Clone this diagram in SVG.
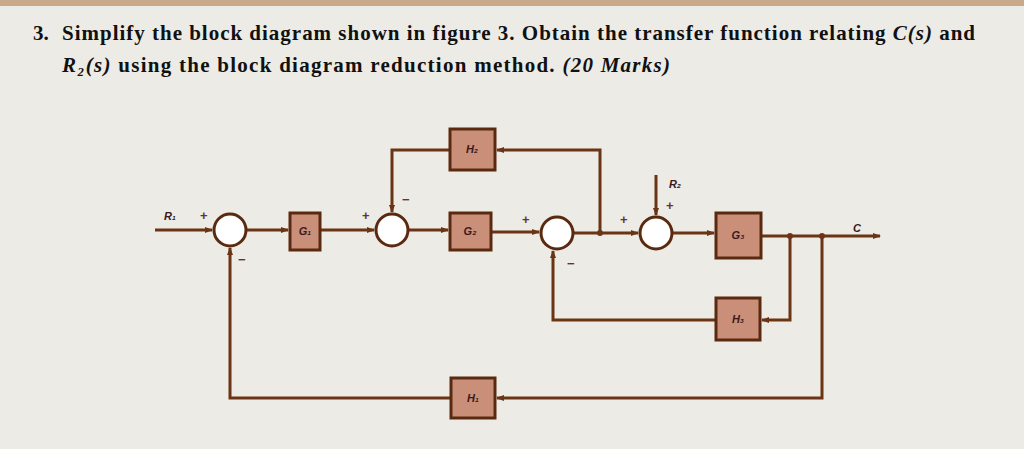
<svg xmlns="http://www.w3.org/2000/svg" width="1024" height="449" viewBox="0 0 1024 449">
<defs><marker id="a" markerWidth="8" markerHeight="8" refX="7" refY="4" orient="auto" markerUnits="userSpaceOnUse"><path d="M0,1 L8,4 L0,7 z" fill="#6b3415"/></marker>
<style>
.t{font-family:"Liberation Serif",serif;font-size:21px;fill:#111;font-weight:bold}
.b{fill:#c98f78;stroke:#5a2a10;stroke-width:3}
.bl{font-family:"Liberation Sans",sans-serif;font-size:11px;font-weight:bold;font-style:italic;fill:#3a1a20;text-anchor:middle}
.w{stroke:#6b3415;stroke-width:3;fill:none}
.s{fill:#fff;stroke:#5a2a10;stroke-width:3}
.sg{font-family:"Liberation Sans",sans-serif;font-size:13px;font-weight:bold;fill:#6b3415}
</style></defs>
<rect width="1024" height="449" fill="#ecebe6"/>
<rect width="1024" height="6" fill="#c9a98a"/>
<text class="t" x="33" y="40">3.</text>
<text class="t" x="62" y="40" textLength="913" lengthAdjust="spacing">Simplify the block diagram shown in figure 3. Obtain the transfer function relating <tspan font-style="italic">C(s)</tspan> and</text>
<text class="t" x="62" y="72" textLength="608" lengthAdjust="spacing"><tspan font-style="italic">R₂(s)</tspan> using the block diagram reduction method.   <tspan font-style="italic">(20 Marks)</tspan></text>
<g id="connectors">
<path class="w" d="M155,230 H212" marker-end="url(#a)"/>
<path class="w" d="M246,230 H288" marker-end="url(#a)"/>
<path class="w" d="M321,230 H374" marker-end="url(#a)"/>
<path class="w" d="M408,230 H448" marker-end="url(#a)"/>
<path class="w" d="M492,232 H539" marker-end="url(#a)"/>
<path class="w" d="M573,233 H638" marker-end="url(#a)"/>
<path class="w" d="M672,233 H714" marker-end="url(#a)"/>
<path class="w" d="M762,236 H880" marker-end="url(#a)"/>
<path class="w" d="M600,233 V150 H497" marker-end="url(#a)"/>
<path class="w" d="M450,150 H392 V212" marker-end="url(#a)"/>
<path class="w" d="M656,175 V215" marker-end="url(#a)"/>
<path class="w" d="M790,236 V320 H762" marker-end="url(#a)"/>
<path class="w" d="M715,320 H553 V251" marker-end="url(#a)"/>
<path class="w" d="M822,236 V398 H497" marker-end="url(#a)"/>
<path class="w" d="M450,398 H230 V248" marker-end="url(#a)"/>
<circle cx="600" cy="233" r="3" fill="#6b3415"/><circle cx="790" cy="236" r="3" fill="#6b3415"/><circle cx="822" cy="236" r="3" fill="#6b3415"/>
</g>
<g id="sum1"><circle class="s" cx="230" cy="230" r="16"/><text class="sg" x="200" y="220">+</text><text class="sg" x="238" y="264">−</text></g>
<g id="sum2"><circle class="s" cx="392" cy="230" r="16"/><text class="sg" x="362" y="220">+</text><text class="sg" x="402" y="204">−</text></g>
<g id="sum3"><circle class="s" cx="557" cy="233" r="16"/><text class="sg" x="522" y="224">+</text><text class="sg" x="567" y="268">−</text></g>
<g id="sum4"><circle class="s" cx="656" cy="233" r="16"/><text class="sg" x="620" y="224">+</text><text class="sg" x="666" y="210">+</text></g>
<g id="G1"><rect class="b" x="290" y="213" width="30" height="37"/><text class="bl" x="305" y="235">G₁</text></g>
<g id="G2"><rect class="b" x="450" y="213" width="41" height="37"/><text class="bl" x="470" y="235">G₂</text></g>
<g id="G3"><rect class="b" x="716" y="213" width="45" height="45"/><text class="bl" x="738" y="239">G₃</text></g>
<g id="H2"><rect class="b" x="450" y="129" width="45" height="41"/><text class="bl" x="472" y="153">H₂</text></g>
<g id="H3"><rect class="b" x="716" y="298" width="44" height="42"/><text class="bl" x="738" y="323">H₃</text></g>
<g id="H1"><rect class="b" x="451" y="378" width="44" height="40"/><text class="bl" x="473" y="402">H₁</text></g>
<text class="bl" x="170" y="220">R₁</text>
<text class="bl" x="675" y="188">R₂</text>
<text class="bl" x="857" y="232">C</text>
</svg>
